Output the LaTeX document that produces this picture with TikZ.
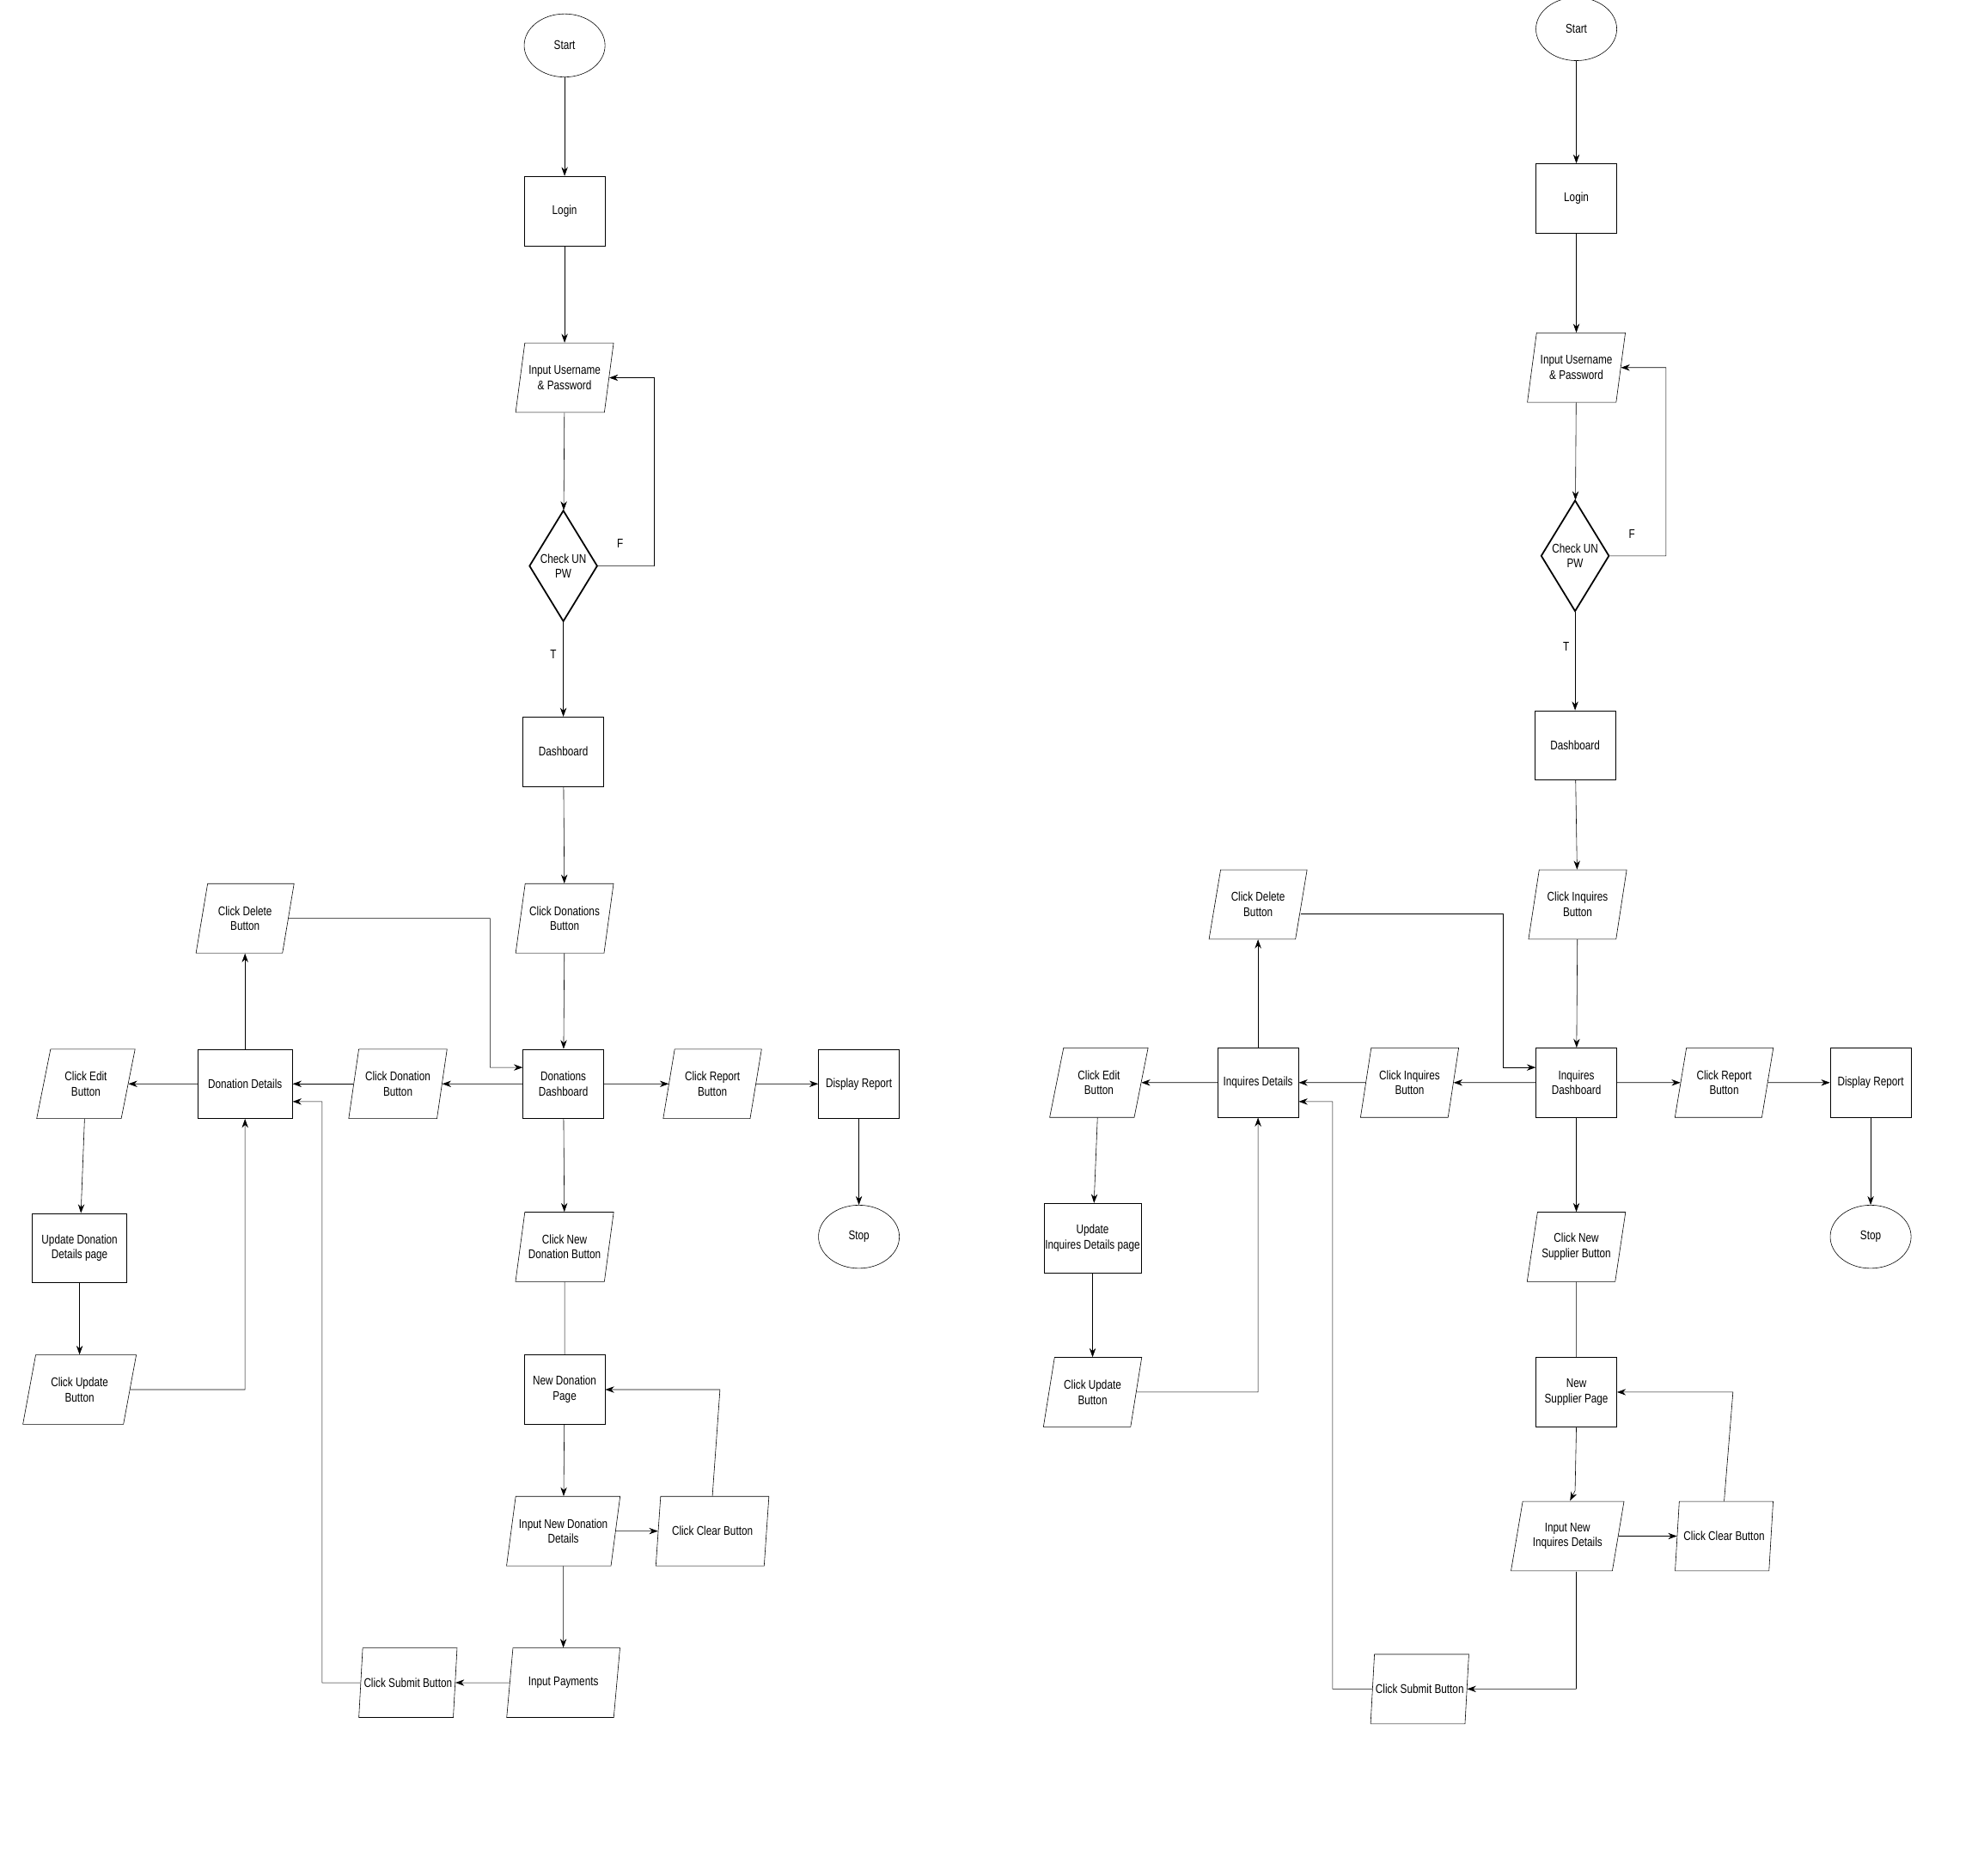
\documentclass[tikz,border=0pt]{standalone}
\usepackage{fontspec}
\setmainfont[FakeStretch=0.8]{Liberation Sans}
\usetikzlibrary{shapes.geometric,arrows.meta}
\begin{document}
\begin{tikzpicture}[x=1pt,y=-1pt,
  every node/.style={font=\fontsize{10}{12}\selectfont,align=center,inner sep=1pt},
  box/.style={draw,minimum width=64pt,minimum height=55pt},
  wbox/.style={draw,minimum width=75pt,minimum height=55pt},
  io/.style={draw,trapezium,trapezium left angle=72,trapezium right angle=108,trapezium stretches=true,minimum width=78pt,minimum height=55pt},
  wio/.style={io,minimum width=90pt},
  term/.style={draw,ellipse,minimum width=64pt,minimum height=50pt},
  dec/.style={draw,very thick,diamond,aspect=0.6,minimum width=54pt,minimum height=88pt},
  ar/.style={-{Stealth[length=7pt,width=5pt]}}]
\useasboundingbox (0,0) rectangle (1566,1485);
% ---------- left chart
\node[term] (s1) at (447,36) {Start};
\node[box] (l1) at (447,167) {Login};
\node[io] (i1) at (447,299) {Input Username\\\& Password};
\node[dec] (c1) at (446,448) {Check UN\\PW};
\node at (491,430) {F};
\node at (438,518) {T};
\node[box] (d1) at (446,595) {Dashboard};
\node[io] (cd1) at (447,727) {Click Donations\\Button};
\node[box] (dd1) at (446,858) {Donations\\Dashboard};
\node[io] (cr1) at (564,858) {Click Report\\Button};
\node[box] (dr1) at (680,858) {Display Report};
\node[term] (st1) at (680,979) {Stop};
\node[io] (cdb1) at (315,858) {Click Donation\\Button};
\node[wbox] (det1) at (194,858) {Donation Details};
\node[io] (del1) at (194,727) {Click Delete\\Button};
\node[io] (ed1) at (68,858) {Click Edit\\Button};
\node[wbox] (up1) at (63,988) {Update Donation\\Details page};
\node[wio] (cu1) at (63,1100) {Click Update\\Button};
\node[io] (cn1) at (447,987) {Click New\\Donation Button};
\node[box] (np1) at (447,1100) {New Donation\\Page};
\node[wio] (in1) at (446,1212) {Input New Donation\\Details};
\node[wio] (cc1) at (564,1212) {Click Clear Button};
\node[wio] (ip1) at (446,1332) {Input Payments};
\node[io] (sb1) at (323,1332) {Click Submit Button};
\draw[ar] (s1)--(l1); \draw[ar] (l1)--(i1); \draw[ar] (i1)--(c1);
\draw[ar] (c1)--(d1);
\draw[ar] (c1.east) -- (518,448) -- (518,299) -- (i1.east);
\draw[ar] (d1)--(cd1); \draw[ar] (cd1)--(dd1);
\draw[ar] (dd1)--(cr1); \draw[ar] (cr1)--(dr1); \draw[ar] (dr1)--(st1);
\draw[ar] (dd1)--(cdb1); \draw[ar] (cdb1)--(det1);
\draw[ar] (det1)--(del1);
\draw[ar] (del1.east) -- (388,727) -- (388,845) -- (dd1.west |- 0,845);
\draw[ar] (det1)--(ed1); \draw[ar] (ed1)--(up1); \draw[ar] (up1)--(cu1);
\draw[ar] (cu1.east) -- (194,1100) -- (det1.south);
\draw[ar] (dd1)--(cn1); \draw (cn1)--(np1); \draw[ar] (np1)--(in1);
\draw[ar] (in1)--(cc1);
\draw[ar] (cc1.north) -- (570,1100) -- (np1.east);
\draw[ar] (in1)--(ip1); \draw[ar] (ip1)--(sb1);
\draw[ar] (sb1.west) -- (255,1332) -- (255,872) -- (det1.east |- 0,872);
% ---------- right chart
\node[term] (s2) at (1248,23) {Start};
\node[box] (l2) at (1248,157) {Login};
\node[io] (i2) at (1248,291) {Input Username\\\& Password};
\node[dec] (c2) at (1247,440) {Check UN\\PW};
\node at (1292,423) {F};
\node at (1240,512) {T};
\node[box] (d2) at (1247,590) {Dashboard};
\node[io] (cd2) at (1249,716) {Click Inquires\\Button};
\node[box] (dd2) at (1248,857) {Inquires\\Dashboard};
\node[io] (cr2) at (1365,857) {Click Report\\Button};
\node[box] (dr2) at (1481,857) {Display Report};
\node[term] (st2) at (1481,979) {Stop};
\node[io] (cdb2) at (1116,857) {Click Inquires\\Button};
\node[box] (det2) at (996,857) {Inquires Details};
\node[io] (del2) at (996,716) {Click Delete\\Button};
\node[io] (ed2) at (870,857) {Click Edit\\Button};
\node[wbox] (up2) at (865,980) {Update\\Inquires Details page};
\node[io] (cu2) at (865,1102) {Click Update\\Button};
\node[io] (cn2) at (1248,987) {Click New\\Supplier Button};
\node[box] (np2) at (1248,1102) {New\\Supplier Page};
\node[wio] (in2) at (1241,1216) {Input New\\Inquires Details};
\node[io] (cc2) at (1365,1216) {Click Clear Button};
\node[io] (sb2) at (1124,1337) {Click Submit Button};
\draw[ar] (s2)--(l2); \draw[ar] (l2)--(i2); \draw[ar] (i2)--(c2);
\draw[ar] (c2)--(d2);
\draw[ar] (c2.east) -- (1319,440) -- (1319,291) -- (i2.east);
\draw[ar] (d2)--(cd2); \draw[ar] (cd2)--(dd2);
\draw[ar] (dd2)--(cr2); \draw[ar] (cr2)--(dr2); \draw[ar] (dr2)--(st2);
\draw[ar] (dd2)--(cdb2); \draw[ar] (cdb2)--(det2);
\draw[ar] (det2)--(del2);
\draw[ar] (1030,723) -- (1190,723) -- (1190,845) -- (dd2.west |- 0,845);
\draw[ar] (det2)--(ed2); \draw[ar] (ed2)--(up2); \draw[ar] (up2)--(cu2);
\draw[ar] (cu2.east) -- (996,1102) -- (det2.south);
\draw[ar] (dd2)--(cn2); \draw (cn2)--(np2);
\draw[ar] (np2.south) -- (1247,1180) -- (1243,1188);
\draw[ar] (in2)--(cc2);
\draw[ar] (cc2.north) -- (1372,1102) -- (np2.east);
\draw (1248,1244) -- (1248,1337);
\draw[ar] (1248,1337) -- (sb2.east);
\draw[ar] (sb2.west) -- (1055,1337) -- (1055,872) -- (det2.east |- 0,872);
\end{tikzpicture}
\end{document}
